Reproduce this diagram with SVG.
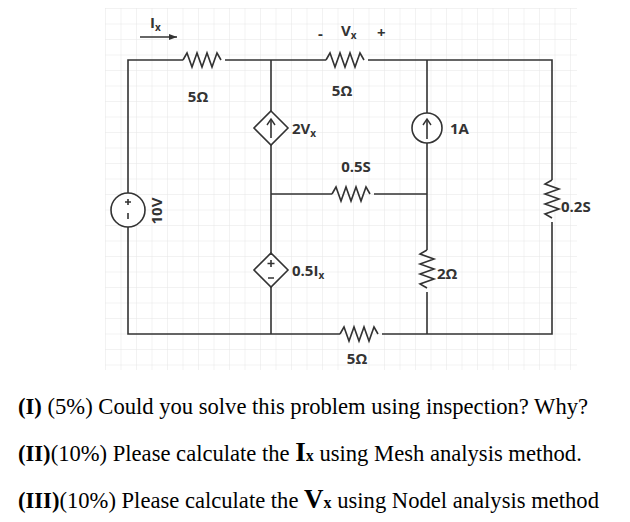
<svg xmlns="http://www.w3.org/2000/svg" width="630" height="522" viewBox="0 0 630 522">
<defs>
<pattern id="grid" width="15.5" height="15.5" patternUnits="userSpaceOnUse" x="105" y="8"><path d="M0 0H15.5M0 0V15.5" stroke="#e6e6e6" stroke-width="1" fill="none"/></pattern>
<marker id="ah" markerUnits="userSpaceOnUse" markerWidth="10" markerHeight="10" refX="8" refY="5" orient="auto"><path d="M0 2L8 5L0 8z" fill="#333"/></marker>
<marker id="ao" markerUnits="userSpaceOnUse" markerWidth="10" markerHeight="10" refX="7" refY="5" orient="auto"><path d="M1 1L7 5L1 9" fill="none" stroke="#333" stroke-width="1.4"/></marker>
</defs>
<style>
.w{stroke:#333;stroke-width:1.6;fill:none}
.c{stroke:#333;stroke-width:1.6;fill:#fff}
.t{font-family:"Open Sans","DejaVu Sans",sans-serif;font-weight:bold;font-size:15px;fill:#333}
.q{font-family:"Liberation Serif",serif;font-size:22.6px;fill:#000}
</style>
<rect width="630" height="522" fill="#fff"/>
<rect x="105" y="8" width="472" height="362" fill="url(#grid)"/>
<g id="connectors">
<path class="w" d="M128 193V60H183M225 60H326M368 60H552V180M552 222V334H382M340 334H128V227"/>
<path class="w" d="M271 60V111M271 145V253M271 287V334"/>
<path class="w" d="M427 60V113M427 143V250M427 292V334"/>
<path class="w" d="M271 194H332M374 194H427"/>
<path class="w" d="M140 37H177" marker-end="url(#ah)"/>
</g>
<g id="R1"><path class="w" d="M183 60l4 -7l5 14l5 -14l5 14l5 -14l5 14l5 -14l4 7"/><text class="t" x="198" y="102" text-anchor="middle">5Ω</text></g>
<g id="R2"><path class="w" d="M326 60l4 -7l5 14l5 -14l5 14l5 -14l5 14l5 -14l4 7"/><text class="t" x="342" y="96" text-anchor="middle">5Ω</text></g>
<g id="R3"><path class="w" d="M332 194l4 -7l5 14l5 -14l5 14l5 -14l5 14l5 -14l4 7"/><text class="t" x="356" y="172" text-anchor="middle" font-size="14">0.5S</text></g>
<g id="R4"><path class="w" d="M340 334l4 -7l5 14l5 -14l5 14l5 -14l5 14l5 -14l4 7"/><text class="t" x="357" y="364" text-anchor="middle">5Ω</text></g>
<g id="R5"><path class="w" d="M427 250l-7 4l14 5l-14 5l14 5l-14 5l14 5l-14 5l7 4"/><text class="t" x="437" y="279">2Ω</text></g>
<g id="R6"><path class="w" d="M552 180l-7 4l14 5l-14 5l14 5l-14 5l14 5l-14 5l7 4"/><text class="t" x="561" y="212" font-size="13">0.2S</text></g>
<g id="V10"><circle class="c" cx="128" cy="210" r="17"/><path class="w" d="M128 199v6M125 202h6M128 213v6" stroke-width="1.3"/><text class="t" transform="translate(162 211) rotate(-90)" text-anchor="middle">10V</text></g>
<g id="D1"><path class="c" d="M271 111l17 17l-17 17l-17 -17z"/><path class="w" d="M271 138V119" stroke-width="1.3" marker-end="url(#ao)"/><text class="t" x="292" y="134">2V<tspan font-size="10" dy="3">x</tspan></text></g>
<g id="I1A"><circle class="c" cx="427" cy="128" r="15"/><path class="w" d="M427 139V119" stroke-width="1.3" marker-end="url(#ao)"/><text class="t" x="450" y="134">1A</text></g>
<g id="D2"><path class="c" d="M271 253l17 17l-17 17l-17 -17z"/><path class="w" d="M271 260v7M267.5 263.5h7M268 278h6" stroke-width="1.2"/><text class="t" x="292" y="276">0.5I<tspan font-size="10" dy="3">x</tspan></text></g>
<g id="labels"><text class="t" x="150" y="28">I<tspan font-size="10" dy="3">x</tspan></text><text class="t" x="318" y="39">-</text><text class="t" x="341" y="36">V<tspan font-size="10" dy="3">x</tspan></text><text class="t" x="377" y="38">+</text></g>
<g id="questions">
<text class="q" x="18" y="414"><tspan font-weight="bold">(I)</tspan> (5%) Could you solve this problem using inspection? Why?</text>
<text class="q" x="18" y="461"><tspan font-weight="bold">(II)</tspan>(10%) Please calculate the <tspan font-weight="bold" font-size="27">I</tspan><tspan font-weight="bold" font-size="16">x</tspan> using Mesh analysis method.</text>
<text class="q" x="18" y="508"><tspan font-weight="bold">(III)</tspan>(10%) Please calculate the <tspan font-weight="bold" font-size="27">V</tspan><tspan font-weight="bold" font-size="16">x</tspan> using Nodel analysis method</text>
</g>
</svg>
